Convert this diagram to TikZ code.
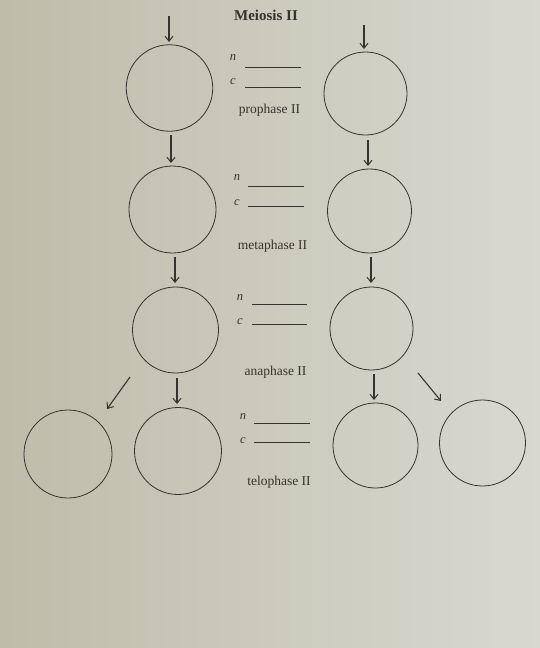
\documentclass[tikz,border=0pt]{standalone}
\usepackage{fontspec}
\setmainfont{Liberation Serif}
\usetikzlibrary{arrows.meta}
\definecolor{paperL}{RGB}{190,189,170}
\definecolor{paperR}{RGB}{216,216,208}
\definecolor{ink}{RGB}{55,50,45}
\tikzset{
  cell/.style={circle, draw=ink, line width=0.8pt, inner sep=0pt},
  arr/.style={draw=ink, line width=1.1pt, -{Straight Barb[length=5pt,width=8pt,line width=1pt]}},
  blank/.style={draw=ink, line width=0.8pt},
  var/.style={font=\fontsize{12.5}{13}\selectfont\itshape, text=ink, inner sep=0pt},
  phase/.style={font=\fontsize{13.5}{15}\selectfont, text=ink, inner sep=0pt},
  ttl/.style={font=\fontsize{15}{17}\selectfont\bfseries, text=ink, inner sep=0pt}
}
\begin{document}
\begin{tikzpicture}[x=1pt,y=-1pt]
\useasboundingbox (0,0) rectangle (540,648);
\shade[left color=paperL, right color=paperR] (0,0) rectangle (540,648);

\node[ttl] (title) at (266,15) {Meiosis II};

% circles
\node[cell, minimum size=86.5pt] (L1) at (169.5,88) {};
\node[cell, minimum size=83pt]   (R1) at (365.5,93.5) {};
\node[cell, minimum size=87pt]   (L2) at (172.5,209.5) {};
\node[cell, minimum size=84pt]   (R2) at (369.5,211) {};
\node[cell, minimum size=86pt]   (L3) at (175.5,330) {};
\node[cell, minimum size=83pt]   (R3) at (371.5,328.5) {};
\node[cell, minimum size=88pt]   (T1) at (68,454) {};
\node[cell, minimum size=87pt]   (T2) at (178,451) {};
\node[cell, minimum size=85pt]   (T3) at (375.5,445.5) {};
\node[cell, minimum size=86pt]   (T4) at (482.5,443) {};

% arrow end points
\coordinate (s0L) at (169,16);  \coordinate (e0L) at (169,42);
\coordinate (s0R) at (364,25);  \coordinate (e0R) at (364,49);
\coordinate (s1L) at (171,135); \coordinate (e1L) at (171,163);
\coordinate (s1R) at (368,140); \coordinate (e1R) at (368,166);
\coordinate (s2L) at (175,257); \coordinate (e2L) at (175,283);
\coordinate (s2R) at (371,257); \coordinate (e2R) at (371,283);
\coordinate (s3a) at (130,377); \coordinate (e3a) at (107,409);
\coordinate (s3b) at (177,378); \coordinate (e3b) at (177,404);
\coordinate (s3c) at (374,374); \coordinate (e3c) at (374,400);
\coordinate (s3d) at (418,373); \coordinate (e3d) at (441,401);

\draw[arr] (s0L) -- (e0L);
\draw[arr] (s0R) -- (e0R);
\draw[arr] (s1L) -- (e1L);
\draw[arr] (s1R) -- (e1R);
\draw[arr] (s2L) -- (e2L);
\draw[arr] (s2R) -- (e2R);
\draw[arr] (s3a) -- (e3a);
\draw[arr] (s3b) -- (e3b);
\draw[arr] (s3c) -- (e3c);
\draw[arr] (s3d) -- (e3d);

% prophase II
\node[var] (n1) at (233,58) {n};
\node[var] (c1) at (233,82) {c};
\coordinate (n1a) at (245,67); \coordinate (n1b) at (301,67);
\coordinate (c1a) at (245,87); \coordinate (c1b) at (301,87);
\draw[blank] (n1a) -- (n1b);
\draw[blank] (c1a) -- (c1b);
\node[phase] (p1) at (269.5,110) {prophase II};

% metaphase II
\node[var] (n2) at (237,178) {n};
\node[var] (c2) at (237,203) {c};
\coordinate (n2a) at (248,186); \coordinate (n2b) at (304,186);
\coordinate (c2a) at (248,206); \coordinate (c2b) at (304,206);
\draw[blank] (n2a) -- (n2b);
\draw[blank] (c2a) -- (c2b);
\node[phase] (p2) at (272.5,246) {metaphase II};

% anaphase II
\node[var] (n3) at (240,298) {n};
\node[var] (c3) at (240,322) {c};
\coordinate (n3a) at (252,304); \coordinate (n3b) at (307,304);
\coordinate (c3a) at (252,324); \coordinate (c3b) at (307,324);
\draw[blank] (n3a) -- (n3b);
\draw[blank] (c3a) -- (c3b);
\node[phase] (p3) at (275.5,372) {anaphase II};

% telophase II
\node[var] (n4) at (243,417) {n};
\node[var] (c4) at (243,441) {c};
\coordinate (n4a) at (254,423); \coordinate (n4b) at (310,423);
\coordinate (c4a) at (254,442); \coordinate (c4b) at (310,442);
\draw[blank] (n4a) -- (n4b);
\draw[blank] (c4a) -- (c4b);
\node[phase] (p4) at (279,482) {telophase II};
\end{tikzpicture}
\end{document}
